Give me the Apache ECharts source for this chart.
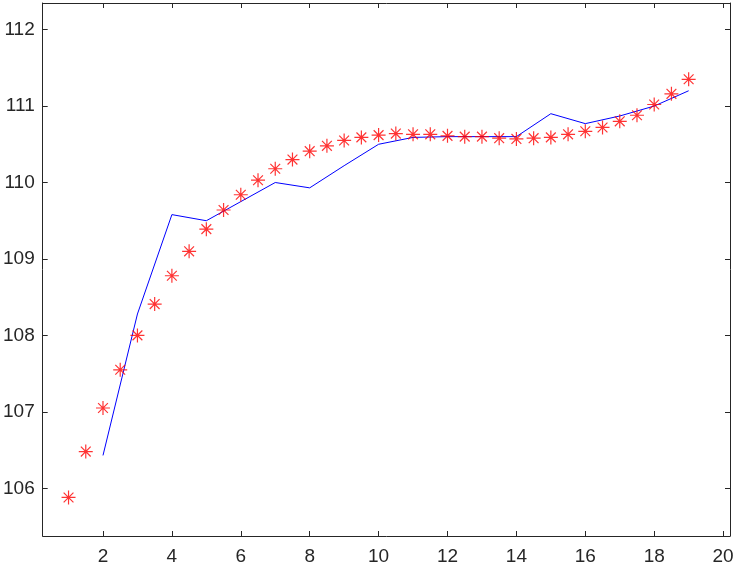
<!DOCTYPE html>
<html>
<head>
<meta charset="utf-8">
<script src="https://cdn.jsdelivr.net/npm/echarts@6/dist/echarts.min.js"></script>
<style>
  html, body { margin: 0; padding: 0; background: #fff; }
  #main { width: 737px; height: 570px; }
</style>
</head>
<body>
<div id="main"></div>
<script>
// star markers, x = 1, 1.5, ... 19
var starX = [1, 1.5, 2, 2.5, 3, 3.5, 4, 4.5, 5, 5.5, 6, 6.5, 7, 7.5, 8, 8.5, 9, 9.5, 10,
  10.5, 11, 11.5, 12, 12.5, 13, 13.5, 14, 14.5, 15, 15.5, 16, 16.5, 17, 17.5, 18, 18.5, 19];
var starY = [105.88, 106.48, 107.05, 107.55, 108.00, 108.41, 108.78, 109.10, 109.39, 109.64,
  109.84, 110.03, 110.18, 110.30, 110.41, 110.48, 110.55, 110.59, 110.62, 110.64,
  110.63, 110.63, 110.61, 110.60, 110.60, 110.58, 110.57, 110.58, 110.59, 110.63,
  110.67, 110.72, 110.80, 110.88, 111.02, 111.16, 111.35];

// blue line, x = 2 .. 19
var lineX = [2, 3, 4, 5, 6, 7, 8, 9, 10, 11, 12, 13, 14, 15, 16, 17, 18, 19];
var lineY = [106.43, 108.28, 109.58, 109.50, 109.75, 110.00, 109.93, 110.22, 110.50, 110.59,
  110.60, 110.60, 110.60, 110.90, 110.77, 110.87, 111.00, 111.20];

var xTicks = [2, 4, 6, 8, 10, 12, 14, 16, 18, 20];
var yTicks = [106, 107, 108, 109, 110, 111, 112];

function pairs(xs, ys) {
  return xs.map(function (x, i) { return [x, ys[i]]; });
}

var axisCol = '#262626';
var font = 'Liberation Sans, Arial, sans-serif';

function xAx(pos, labels) {
  return {
    type: 'value', position: pos, min: 0.25, max: 20.2,
    axisLine: { show: true, onZero: false, lineStyle: { color: axisCol, width: 1 } },
    axisTick: { show: true, inside: true, length: 5, customValues: xTicks, lineStyle: { color: axisCol } },
    axisLabel: { show: labels, customValues: xTicks, color: axisCol, fontSize: 19, fontFamily: font, margin: 11 },
    splitLine: { show: false }
  };
}
function yAx(pos, labels) {
  return {
    type: 'value', position: pos, min: 105.376, max: 112.348,
    axisLine: { show: true, onZero: false, lineStyle: { color: axisCol, width: 1 } },
    axisTick: { show: true, inside: true, length: 5, customValues: yTicks, lineStyle: { color: axisCol } },
    axisLabel: { show: labels, customValues: yTicks, color: axisCol, fontSize: 19, fontFamily: font, margin: 8 },
    splitLine: { show: false }
  };
}

var chart = echarts.init(document.getElementById('main'));
chart.setOption({
  animation: false,
  backgroundColor: '#fff',
  grid: { left: 42, right: 7, top: 3, bottom: 34 },
  xAxis: [xAx('bottom', true), xAx('top', false)],
  yAxis: [yAx('left', true), yAx('right', false)],
  series: [
    {
      type: 'line',
      data: pairs(lineX, lineY),
      showSymbol: false,
      lineStyle: { color: '#0000ff', width: 1 },
      z: 2
    },
    {
      type: 'scatter',
      data: pairs(starX, starY),
      symbol: 'path://M0 6 L12 6 M6 0 L6 12 M1.8 1.8 L10.2 10.2 M1.8 10.2 L10.2 1.8',
      symbolSize: 14,
      itemStyle: { color: 'rgba(0,0,0,0)', borderColor: '#ff0000', borderWidth: 1.2 },
      z: 3
    }
  ]
});
</script>
</body>
</html>
